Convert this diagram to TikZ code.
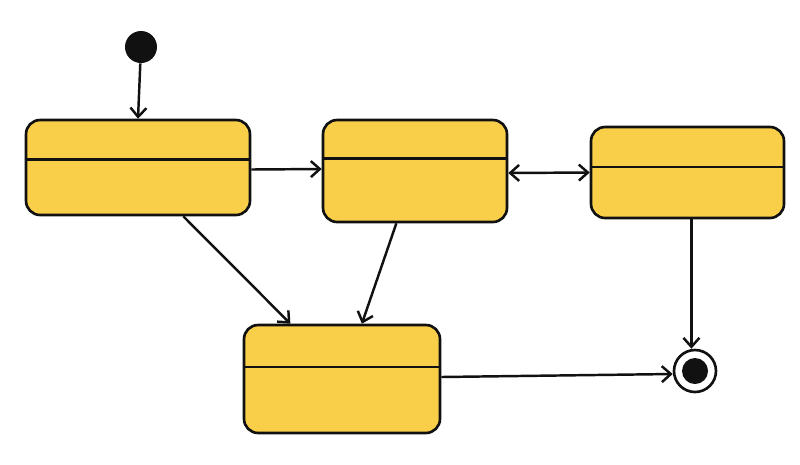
\documentclass[tikz,border=0pt]{standalone}
\usepackage{xcolor}
\definecolor{stateYellow}{HTML}{F9CF4A}
\definecolor{inkBlack}{HTML}{111111}
\usetikzlibrary{arrows.meta, calc, positioning}
\tikzset{
    % State box - rounded yellow rectangle
    state/.style={
        rectangle,
        rounded corners=8pt,
        draw=inkBlack,
        line width=1.5pt,
        fill=stateYellow,
        inner sep=0pt,
    },
    % Initial pseudo state
    initial dot/.style={
        circle,
        fill=inkBlack,
        minimum size=0.64cm,
        inner sep=0pt,
    },
    % Final state ring
    final ring/.style={
        circle,
        draw=inkBlack,
        line width=1.5pt,
        fill=white,
        minimum size=0.84cm,
        inner sep=0pt,
    },
    final dot/.style={
        circle,
        fill=inkBlack,
        minimum size=0.52cm,
        inner sep=0pt,
    },
    % Transition arrow - open barb tip
    arrow/.style={
        -{Straight Barb[length=1.8mm, width=3.2mm, line width=1.4pt]},
        line width=1.4pt,
        draw=inkBlack,
    },
    % Two-way transition
    arrow both/.style={
        arrow,
        {Straight Barb[length=1.8mm, width=3.2mm, line width=1.4pt]}-{Straight Barb[length=1.8mm, width=3.2mm, line width=1.4pt]},
    },
    % Divider line in a state box
    divider/.style={
        line width=1.4pt,
        draw=inkBlack,
    },
}

\begin{document}
\begin{tikzpicture}[x=0.02cm, y=-0.02cm]
    \useasboundingbox[fill=white] (0,0) rectangle (800,464);

    \node (start) [initial dot] at (141,47) {};

    \node (stateA) [state, minimum width=4.48cm, minimum height=1.9cm] at (138,167.5) {};
    \node (stateB) [state, minimum width=3.68cm, minimum height=2.04cm] at (415,171) {};
    \node (stateC) [state, minimum width=3.86cm, minimum height=1.82cm] at (687.5,172.5) {};
    \node (stateD) [state, minimum width=3.92cm, minimum height=2.16cm] at (342,379) {};

    \node (finish) [final ring] at (695,371) {};
    \node (finishDot) [final dot] at (finish) {};

    % dividers
    \draw [divider] ($(stateA.north west)!0.42!(stateA.south west)$) -- ($(stateA.north east)!0.42!(stateA.south east)$);
    \draw [divider] ($(stateB.north west)!0.38!(stateB.south west)$) -- ($(stateB.north east)!0.38!(stateB.south east)$);
    \draw [divider] ($(stateC.north west)!0.44!(stateC.south west)$) -- ($(stateC.north east)!0.44!(stateC.south east)$);
    \draw [divider] ($(stateD.north west)!0.39!(stateD.south west)$) -- ($(stateD.north east)!0.39!(stateD.south east)$);

    % transitions
    \draw [arrow] (start) -- (stateA.north);
    \draw [arrow] ([yshift=-0.04cm]stateA.east) -- ([yshift=0.04cm]stateB.west);
    \draw [arrow both] ([yshift=-0.04cm]stateB.east) -- (stateC.west);
    \draw [arrow] ($(stateA.south west)!0.70!(stateA.south east)$) -- ($(stateD.north west)!0.24!(stateD.north east)$);
    \draw [arrow] ($(stateB.south west)!0.40!(stateB.south east)$) -- ($(stateD.north west)!0.60!(stateD.north east)$);
    \draw [arrow] ($(stateC.south west)!0.52!(stateC.south east)$) -- (finish.north -| {$(stateC.south west)!0.52!(stateC.south east)$});
    \draw [arrow] ([yshift=0.04cm]stateD.east) -- ([yshift=-0.06cm]finish.west);
\end{tikzpicture}
\end{document}
